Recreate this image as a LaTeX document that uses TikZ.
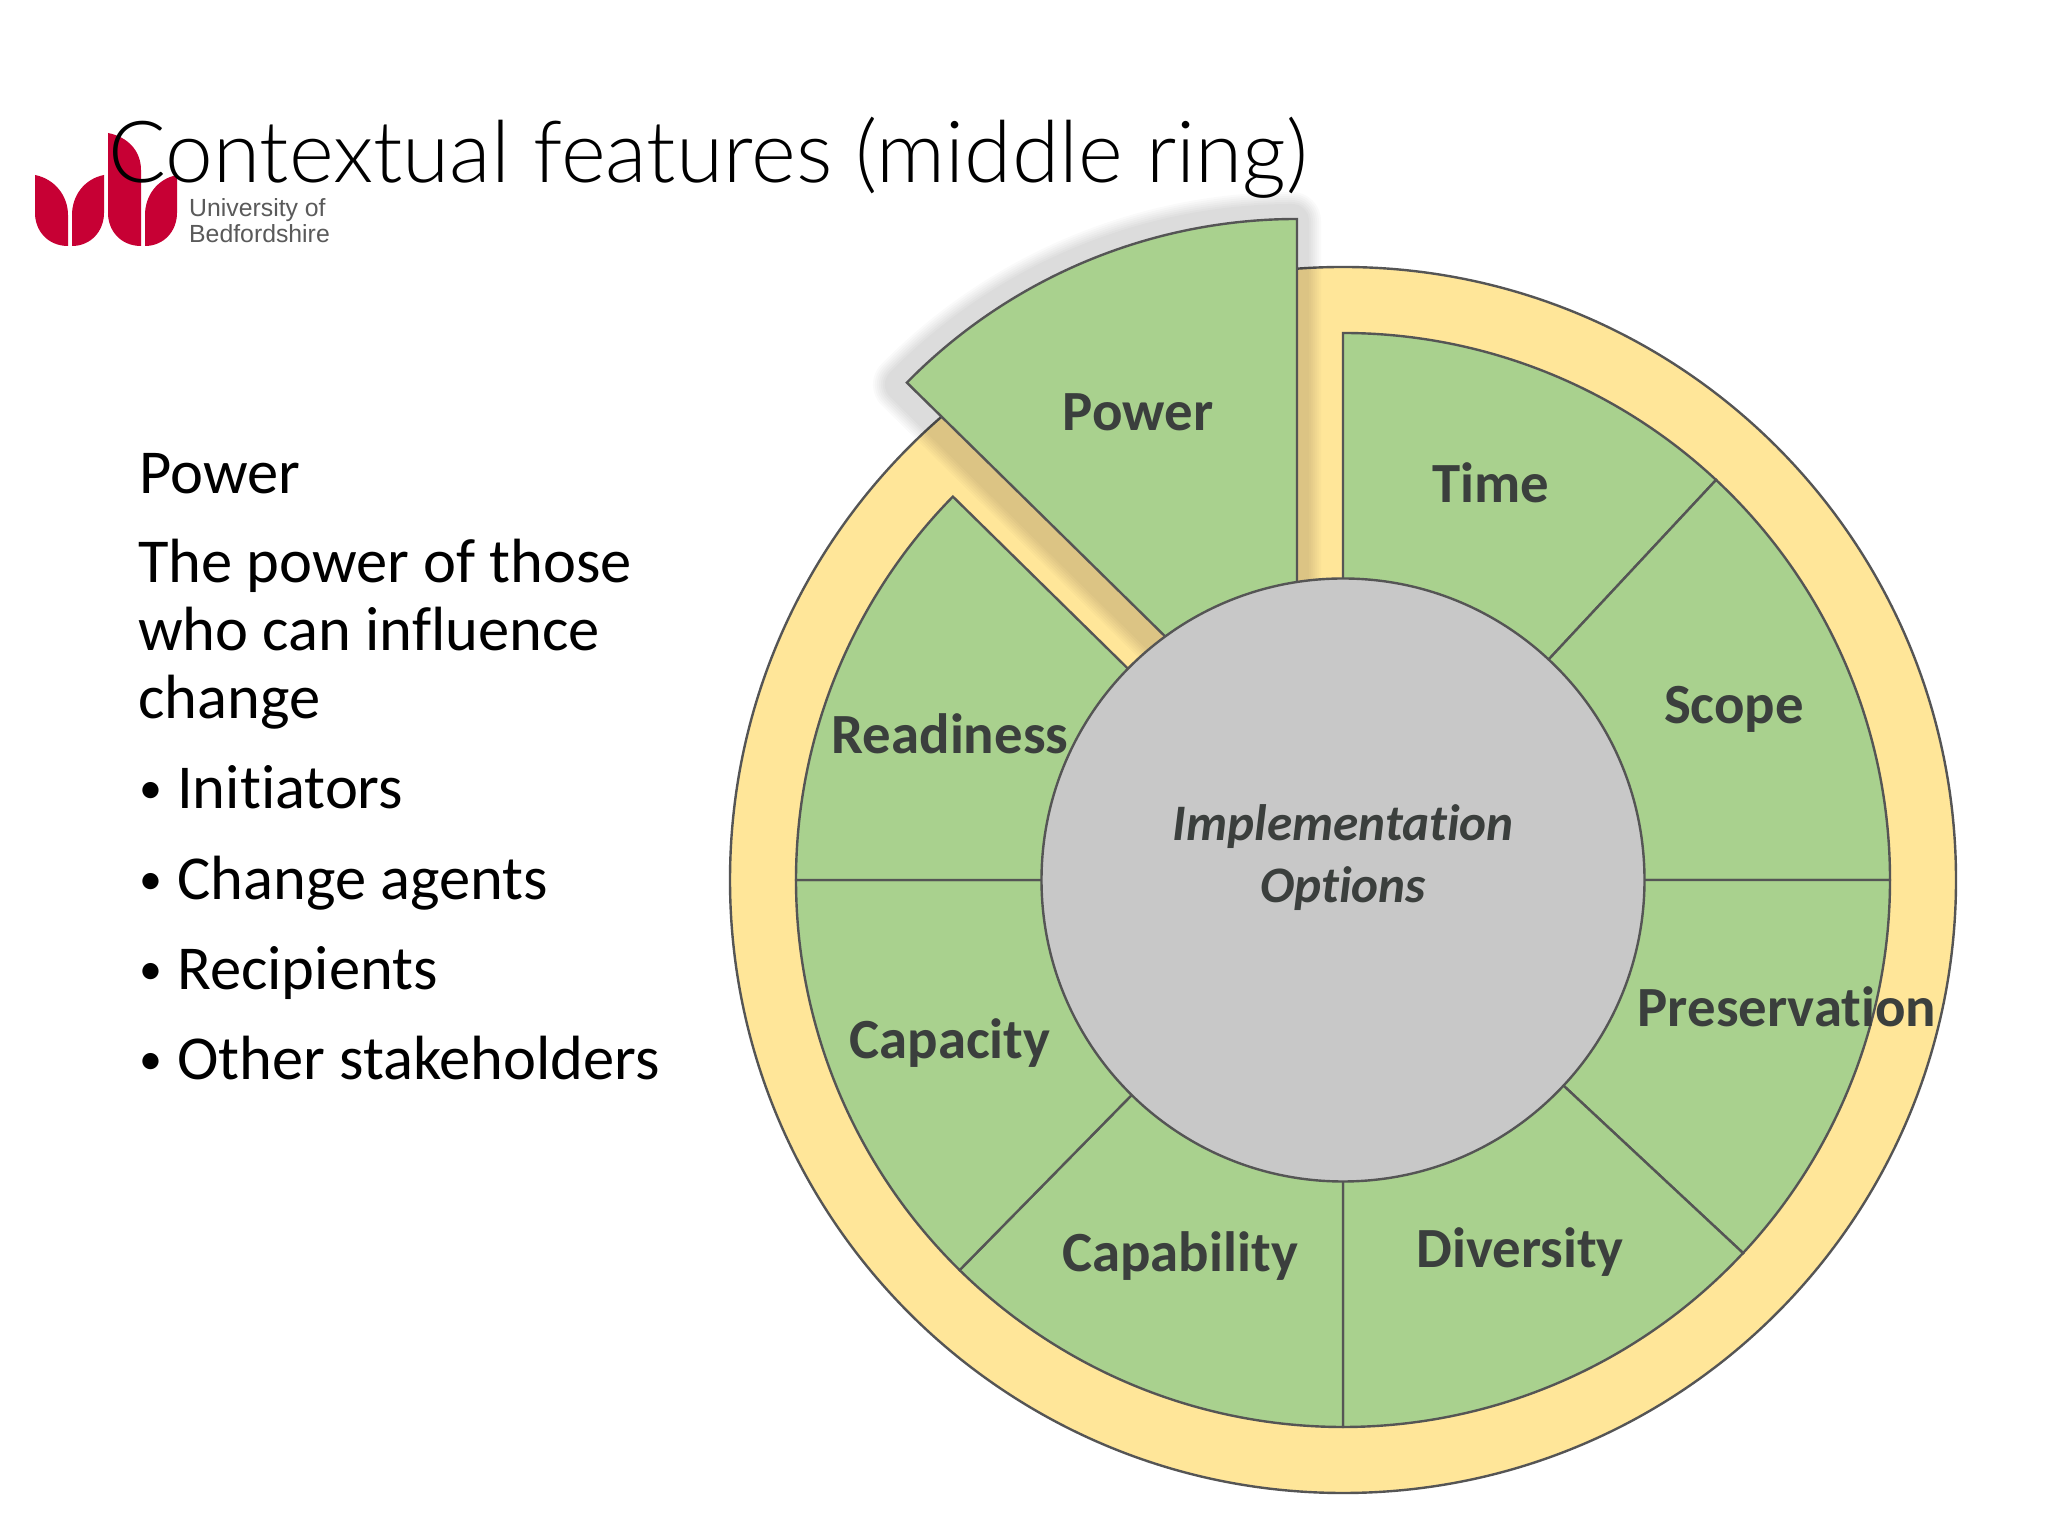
\documentclass[tikz,border=0pt]{standalone}
\usepackage{fontspec}
\setmainfont{Carlito}[Ligatures=NoCommon]
\newfontfamily\logofont{Liberation Sans}
\newfontfamily\ttlfont{Lato}[UprightFont=* Light,Ligatures=NoCommon]
\definecolor{ringY}{HTML}{FFE699}
\definecolor{segG}{HTML}{A9D18E}
\definecolor{hubG}{HTML}{C8C8C8}
\definecolor{edgeC}{HTML}{555555}
\definecolor{labelC}{HTML}{3B3F3D}
\definecolor{logoR}{HTML}{C70034}
\definecolor{logoT}{HTML}{5A5A5A}
\tikzset{
  x=1pt,y=1pt,
  edge/.style={draw=edgeC,line width=2.4pt,line join=miter},
  seg/.style={edge,fill=segG},
  lab/.style={anchor=base,inner sep=0pt,text=labelC,font=\fontsize{56.8}{56.8}\selectfont\bfseries},
  impl/.style={anchor=base,inner sep=0pt,text=labelC,font=\fontsize{51.2}{51.2}\selectfont\bfseries\itshape},
  body/.style={anchor=base west,inner sep=0pt,text=black,font=\fontsize{62.5}{68}\selectfont},
  ttl/.style={anchor=base west,inner sep=0pt,text=black,font=\fontsize{85.7}{86}\selectfont\ttlfont},
  logotxt/.style={anchor=base west,inner sep=0pt,text=logoT,font=\fontsize{24.8}{25}\selectfont\logofont},
  petal/.style={fill=logoR,draw=none}
}
\newcommand{\pie}[2]{(0,0) -- (#1:547) arc[start angle=#1,end angle=#2,radius=547] -- cycle}
\newcommand{\blt}{\makebox[38pt][l]{\raisebox{5.5pt}{\fontsize{46}{46}\selectfont •}}}
\begin{document}
\begin{tikzpicture}
\useasboundingbox (0,0) rectangle (2048,1536);
\fill[white] (0,0) rectangle (2048,1536);
% logo
\fill[petal] (35,1361) .. controls (55,1357) and (68,1340) .. (68,1321) -- (68,1290) .. controls (48,1290) and (35,1305) .. (35,1323) -- cycle;
\fill[petal] (104,1361) .. controls (84,1357) and (72,1340) .. (72,1321) -- (72,1290) .. controls (91,1290) and (104,1305) .. (104,1323) -- cycle;
\fill[petal] (108,1403) .. controls (128,1399) and (141,1385) .. (141,1366) -- (141,1290) .. controls (121,1290) and (108,1305) .. (108,1323) -- cycle;
\fill[petal] (177,1361) .. controls (157,1357) and (145,1340) .. (145,1321) -- (145,1290) .. controls (164,1290) and (177,1305) .. (177,1323) -- cycle;
\node[logotxt] (uni) at (189,1319) {University of};
\node[logotxt] (bed) at (189,1293) {Bedfordshire};
% wheel
\begin{scope}[shift={(1343,656)}]
  \draw[edge,fill=ringY] (0,0) circle[radius=613];
  \draw[seg] \pie{47}{90};
  \draw[seg] \pie{0}{47};
  \draw[seg] \pie{-43}{0};
  \draw[seg] \pie{-90}{-43};
  \draw[seg] \pie{-134.5}{-90};
  \draw[seg] \pie{-180}{-134.5};
  \draw[seg] \pie{135.5}{180};
  \begin{scope}[shift={(-46,114)}]
    \begin{scope}[shift={(-5,-2)}]
      \foreach \w in {34,38,...,60}
        \draw[black,opacity=0.021,line width=\w pt,line join=round] \pie{90}{135.5};
    \end{scope}
    \draw[seg] \pie{90}{135.5};
  \end{scope}
  \draw[edge,fill=hubG] (0,0) circle[radius=301.5];
\end{scope}
% wheel labels
\node[lab] (power) at (1138,1105.5) {Power};
\node[lab] (time) at (1491,1033) {Time};
\node[lab] (scope) at (1734,812) {Scope};
\node[lab] (pres) at (1787,509) {Preservation};
\node[lab] (div) at (1520,268) {Diversity};
\node[lab] (capb) at (1180,264) {Capability};
\node[lab] (capc) at (950,477) {Capacity};
\node[lab] (read) at (950,782) {Readiness};
\node[impl] (im1) at (1343,695) {Implementation};
\node[impl] (im2) at (1343,633) {Options};
% left text
\node[body] (t0) at (139,1042) {Power};
\node[body] (t1) at (138,953) {The power of those};
\node[body] (t2) at (138,885) {who can influence};
\node[body] (t3) at (138,817) {change};
\node[body] (b1) at (139,727) {\blt Initiators};
\node[body] (b2) at (139,636) {\blt Change agents};
\node[body] (b3) at (139,546) {\blt Recipients};
\node[body] (b4) at (139,456) {\blt Other stakeholders};
% title
\node[ttl] (title) at (108,1353) {Contextual features (middle ring)};
\end{tikzpicture}
\end{document}
